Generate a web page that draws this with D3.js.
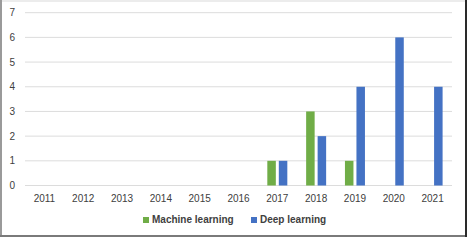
<!DOCTYPE html>
<html>
<head>
<meta charset="utf-8">
<script src="https://cdn.jsdelivr.net/npm/d3@7"></script>
<style>
  html, body { margin: 0; padding: 0; background: #fff; }
  svg { display: block; }
</style>
</head>
<body>
<svg id="chart" width="474" height="252"></svg>
<script>
const years = ["2011","2012","2013","2014","2015","2016","2017","2018","2019","2020","2021"];
const seriesNames = ["Machine learning", "Deep learning"];
const machineLearning = [0,0,0,0,0,0,1,3,1,0,0];
const deepLearning = [0,0,0,0,0,0,1,2,4,6,4];
const yTicks = [0,1,2,3,4,5,6,7];
const colors = ["#70AD47", "#4472C4"];

const svg = d3.select("#chart");

// frame
svg.append("rect").attr("x", 0).attr("y", 0).attr("width", 466).attr("height", 2).attr("fill", "#ececec");
svg.append("rect").attr("x", 0).attr("y", 0).attr("width", 2).attr("height", 237).attr("fill", "#9a9a9a");
svg.append("rect").attr("x", 0).attr("y", 235).attr("width", 467).attr("height", 2).attr("fill", "#7a7a7a");
svg.append("rect").attr("x", 465).attr("y", 0).attr("width", 2).attr("height", 237).attr("fill", "#2a2a2a");

const x0 = d3.scaleBand().domain(years).range([25, 452]).padding(0);
const x1 = d3.scaleBand().domain(seriesNames).range([-10, 10]).paddingInner(0.26);
const y = d3.scaleLinear().domain([0, 7]).range([185.5, 12.7]);

// gridlines
svg.append("g").selectAll("line").data(yTicks).join("line")
  .attr("x1", 25).attr("x2", 452)
  .attr("y1", d => y(d)).attr("y2", d => y(d))
  .attr("stroke", "#dcdcdc").attr("stroke-width", 1);

// y labels
svg.append("g").selectAll("text").data(yTicks).join("text")
  .attr("x", 15).attr("y", d => y(d) + 3.5)
  .attr("text-anchor", "end")
  .attr("font-family", "Liberation Sans, Arial, sans-serif")
  .attr("font-size", 10).attr("fill", "#404040")
  .text(d => d);

// x labels
svg.append("g").selectAll("text").data(years).join("text")
  .attr("x", d => x0(d) + x0.bandwidth() / 2).attr("y", 201.5)
  .attr("text-anchor", "middle")
  .attr("font-family", "Liberation Sans, Arial, sans-serif")
  .attr("font-size", 10).attr("fill", "#404040")
  .text(d => d);

// bars
const data = [machineLearning, deepLearning];
data.forEach((vals, si) => {
  svg.append("g").selectAll("rect").data(years.map((yr, i) => ({yr, v: vals[i]})).filter(d => d.v > 0)).join("rect")
    .attr("x", d => x0(d.yr) + x0.bandwidth() / 2 + x1(seriesNames[si]))
    .attr("width", x1.bandwidth())
    .attr("y", d => y(d.v))
    .attr("height", d => y(0) - y(d.v))
    .attr("fill", colors[si]);
});

// legend
const legendX = [143, 251];
const lg = svg.append("g");
seriesNames.forEach((name, i) => {
  lg.append("rect").attr("x", legendX[i]).attr("y", 217).attr("width", 6).attr("height", 6).attr("fill", colors[i]);
  lg.append("text").attr("x", legendX[i] + 9).attr("y", 223)
    .attr("font-family", "Liberation Sans, Arial, sans-serif")
    .attr("font-size", 10).attr("font-weight", "bold").attr("fill", "#404040")
    .text(name);
});
</script>
</body>
</html>
